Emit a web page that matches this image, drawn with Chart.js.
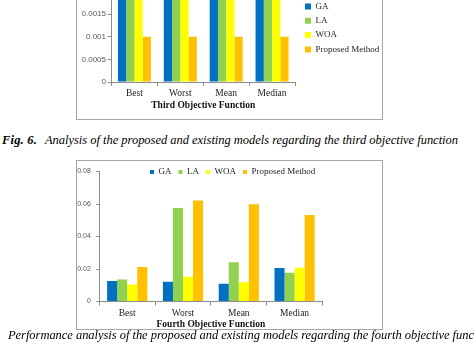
<!DOCTYPE html>
<html><head><meta charset="utf-8">
<script src="https://cdn.jsdelivr.net/npm/chart.js@4.4.1/dist/chart.umd.min.js"></script>
<style>
html,body{margin:0;padding:0;background:#fff;}
body{width:474px;height:343px;overflow:hidden;position:relative;}
.box{position:absolute;left:76px;width:307px;border:1px solid #a6a6a6;box-sizing:border-box;background:#fff;}
#box1{top:-45px;height:165px;}
#box2{top:160px;height:170px;}
.box canvas{display:block;}
.cap{position:absolute;white-space:nowrap;font-family:"Liberation Serif",serif;font-style:italic;font-size:12.5px;color:#000;line-height:14px;}
#fig{left:2px;top:133px;font-weight:bold;}
#cap1{left:45px;top:133px;}
#cap2{left:8px;top:328px;}
</style></head><body>
<div class="box" id="box1"><canvas id="c1" width="305" height="163" style="width:305px;height:163px"></canvas></div>
<div class="cap" id="fig">Fig. 6.</div>
<div class="cap" id="cap1">Analysis of the proposed and existing models regarding the third objective function</div>
<div class="box" id="box2"><canvas id="c2" width="305" height="168" style="width:305px;height:168px"></canvas></div>
<div class="cap" id="cap2"><span id="cap2a">Performance analysis of the proposed and existing models regarding the fourth objective func</span>tion</div>
<script>
// ---- data ----
const categories = ['Best', 'Worst', 'Mean', 'Median'];
const seriesNames = ['GA', 'LA', 'WOA', 'Proposed Method'];
const seriesColors = ['#0070C0', '#92D050', '#FFFF00', '#FFC000'];

// Third objective function (GA, LA, WOA bars run past the top of the cropped frame)
const third_GA = [0.0022, 0.0022, 0.0022, 0.0022];
const third_LA = [0.0022, 0.0022, 0.0022, 0.0022];
const third_WOA = [0.0022, 0.0022, 0.0022, 0.0022];
const third_PM = [0.001, 0.001, 0.001, 0.001];
const thirdTicks = [0, 0.0005, 0.001, 0.0015, 0.002, 0.0025];

// Fourth objective function
const fourth_GA = [0.0126, 0.0122, 0.0109, 0.0206];
const fourth_LA = [0.0135, 0.0576, 0.0241, 0.0177];
const fourth_WOA = [0.0105, 0.0153, 0.0118, 0.0208];
const fourth_PM = [0.0212, 0.0622, 0.0598, 0.0533];
const fourthTicks = [0, 0.02, 0.04, 0.06, 0.08];

const thirdTitle = 'Third Objective Function';
const fourthTitle = 'Fourth Objective Function';

// ---- helpers ----
const legendPlace = {
  id: 'legendPlace',
  beforeUpdate(chart, args, opts) {
    const lg = chart.legend;
    if (!lg) return;
    lg.__o = opts;
    if (!lg.__p) {
      const fit = lg.fit;
      lg.fit = function () {
        fit.call(this);
        const o = this.__o || {};
        if (o.w != null) this.width = o.w;
        if (o.h != null) this.height = o.h;
      };
      lg.__p = true;
    }
  },
  afterLayout(chart, args, opts) {
    const lg = chart.legend;
    if (!lg) return;
    if (opts.x != null) { const w = lg.right - lg.left; lg.left = opts.x; lg.right = opts.x + w; }
    if (opts.y != null) { const h = Math.max(lg.bottom - lg.top, 200); lg.top = opts.y; lg.bottom = opts.y + h; lg.height = h; }
  }
};

function fmt(v) { return String(+(+v).toFixed(6)); }

function makeDatasets(arrs) {
  return arrs.map((d, i) => ({
    label: seriesNames[i], data: d, backgroundColor: seriesColors[i], borderWidth: 0,
    categoryPercentage: 0.72, barPercentage: 1.0
  }));
}

const axisColor = '#8c8c8c';
const serif = '"Liberation Serif", "Times New Roman", serif';
const sans = '"Liberation Sans", Arial, sans-serif';

function makeChart(id, datasets, cfg) {
  return new Chart(document.getElementById(id), {
    type: 'bar',
    data: { labels: categories, datasets },
    plugins: [legendPlace],
    options: {
      responsive: false, animation: false, events: [],
      layout: { padding: cfg.padding },
      plugins: {
        tooltip: { enabled: false },
        legend: {
          position: cfg.legendPos, align: 'start', fullSize: true,
          labels: {
            font: { family: serif, size: 9 }, color: '#222',
            boxWidth: cfg.box, boxHeight: cfg.box, padding: cfg.lp
          }
        },
        legendPlace: cfg.place
      },
      scales: {
        x: {
          grid: { display: true, drawOnChartArea: false, drawTicks: true, tickLength: 4, color: axisColor, offset: true },
          border: { color: axisColor },
          ticks: { font: { family: serif, size: 9.5 }, color: '#222', padding: 2, maxRotation: 0 },
          title: { display: true, text: cfg.title, font: { family: serif, size: 9.5, weight: 'bold', lineHeight: 1 }, color: '#111', padding: { top: 0, bottom: 0 } },
          afterFit: s => { s.height = cfg.xh; }
        },
        y: {
          min: 0, max: cfg.max,
          afterBuildTicks: s => { s.ticks = cfg.ticks.map(v => ({ value: v })); },
          grid: { display: true, drawOnChartArea: false, drawTicks: true, tickLength: cfg.tl, color: axisColor },
          border: { color: axisColor },
          ticks: { font: { family: sans, size: cfg.tf }, color: '#595959', padding: cfg.tp, callback: v => fmt(v) },
          afterFit: s => { s.width = cfg.yw; }
        }
      }
    }
  });
}

makeChart('c1', makeDatasets([third_GA, third_LA, third_WOA, third_PM]), {
  padding: { top: 13, bottom: 9, left: 0, right: 0 },
  legendPos: 'right', box: 6, lp: 5.3,
  place: { w: 87, x: 222.7, y: 40.7 },
  title: thirdTitle, xh: 28, max: 0.0025, ticks: thirdTicks, tl: 4, tp: 1.5, tf: 8, yw: 34.5
});

makeChart('c2', makeDatasets([fourth_GA, fourth_LA, fourth_WOA, fourth_PM]), {
  padding: { top: 10.5, bottom: 0, left: 0, right: 59.5 },
  legendPos: 'top', box: 4, lp: 7,
  place: { h: 0, x: 66, y: -0.5 },
  title: fourthTitle, xh: 27.5, max: 0.08, ticks: fourthTicks, tl: 3, tp: 5.5, tf: 7, yw: 22.3
});

// ---- caption fitting ----
function spread(el, measureEl, target) {
  const w = measureEl.getBoundingClientRect().width;
  const n = measureEl.textContent.length;
  el.style.letterSpacing = ((target - w) / n) + 'px';
}
spread(document.getElementById('fig'), document.getElementById('fig'), 35);
spread(document.getElementById('cap1'), document.getElementById('cap1'), 413);
spread(document.getElementById('cap2'), document.getElementById('cap2a'), 466);
</script>
</body></html>
